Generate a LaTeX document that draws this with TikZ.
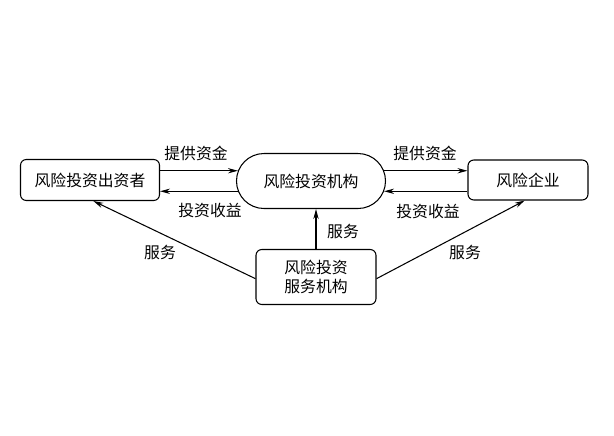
\documentclass[tikz,border=0pt]{standalone}
\usepackage{fontspec}
\newfontfamily\cjk{Noto Sans CJK SC}
\usetikzlibrary{arrows.meta,shapes.misc}
\begin{document}
\begin{tikzpicture}[x=0.03cm,y=-0.03cm,font=\cjk\fontsize{13.5}{16}\selectfont,
    boxnode/.style={draw,line width=0.9pt,rounded corners=5pt,inner sep=0pt,align=center},
    stadnode/.style={draw,line width=0.9pt,rounded rectangle,inner sep=0pt,
      minimum width=4.47cm,minimum height=1.65cm},
    flow/.style={line width=0.9pt,-{Stealth[length=8.5pt,width=4.5pt]}},
    lbl/.style={inner sep=1pt}]

  % the four parties
  \node[boxnode,minimum width=4.17cm,minimum height=1.23cm] (inv) at (90,180) {风险投资出资者};
  \node[stadnode] (inst) at (311,181) {风险投资机构};
  \node[boxnode,minimum width=3.6cm,minimum height=1.2cm] (firm) at (528,180) {风险企业};
  \node[boxnode,minimum width=3.6cm,minimum height=1.65cm] (serv) at (316,277) {风险投资\\服务机构};

  % money flows
  \draw[flow] (inv.east |- inst.172) -- (inst.172);
  \draw[flow] (inst.188) -- (inv.east |- inst.188);
  \draw[flow] (inst.8) -- (firm.west |- inst.8);
  \draw[flow] (firm.west |- inst.352) -- (inst.352);

  % services
  \coordinate (servl) at ([yshift=-0.05cm]serv.west);
  \coordinate (servr) at ([yshift=-0.05cm]serv.east);
  \draw[flow] (serv.north) -- (serv.north |- inst.south);
  \draw[flow] (servl) -- ([xshift=0.1cm]inv.south);
  \draw[flow] (servr) -- ([xshift=-0.1cm]firm.south);

  % labels
  \node[lbl] (l1) at (196,153) {提供资金};
  \node[lbl] (l2) at (210,210) {投资收益};
  \node[lbl] (l3) at (425,153) {提供资金};
  \node[lbl] (l4) at (428,211) {投资收益};
  \node[lbl] (l5) at (343,231) {服务};
  \node[lbl] (l6) at (160,252) {服务};
  \node[lbl] (l7) at (465,252) {服务};

  \path[use as bounding box] (0,0) rectangle (614,435);
\end{tikzpicture}
\end{document}
